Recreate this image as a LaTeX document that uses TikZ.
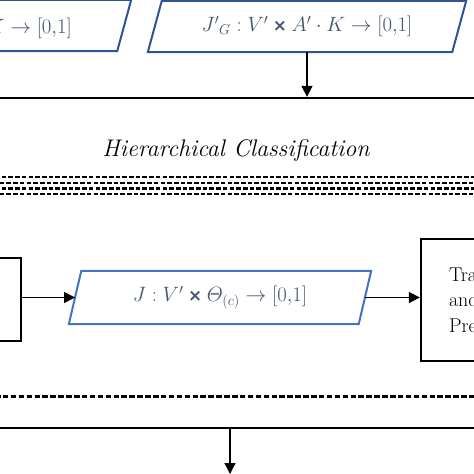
\documentclass[tikz,border=0pt]{standalone}
\usepackage{amsmath}
\usepackage{fontspec}
\newfontfamily\crossfont{DejaVu Sans}
\usetikzlibrary{arrows.meta,calc}
\definecolor{bluedark}{HTML}{2F5496}
\definecolor{bluemid}{HTML}{4472C4}
\definecolor{slatetext}{HTML}{44546A}
\newcommand{\bx}{\mathbin{\text{\crossfont\bfseries\scalebox{0.8}{×}}}}
% outline of a parallelogram round a node: #1 style, #2 node, #3 half slant
\newcommand{\paraoutline}[3]{%
  \draw[#1] ($(#2.south west)+(-#3,0)$) -- ($(#2.south east)+(-#3,0)$) --
    ($(#2.north east)+(#3,0)$) -- ($(#2.north west)+(#3,0)$) -- cycle;}
\begin{document}
\begin{tikzpicture}[x=1pt,y=-1pt,
  para/.style={rectangle, draw=none, text=slatetext, font=\fontsize{21}{25}\selectfont, inner sep=0pt},
  paraline/.style={line width=2pt, line join=miter},
  blackbox/.style={draw=black, line width=2.3pt, inner sep=0pt},
  arr/.style={-{Triangle[length=11pt,width=11pt]}, line width=1.3pt},
  dashline/.style={line width=2.3pt, dash pattern=on 4.6pt off 2.1pt}]
\useasboundingbox (0,0) rectangle (474,474);
\begin{scope}
\clip (0,0) rectangle (474,474);
% big hierarchical classification box
\node[blackbox, minimum width=540pt, minimum height=330pt] (hc) at (237,263) {};
% top parallelograms
\node[para, minimum width=304pt, minimum height=51pt] (ltop) at (-28,25.5) {};
\paraoutline{paraline, draw=bluedark}{ltop}{7}
\node[text=slatetext, font=\fontsize{21}{25}\selectfont, anchor=base east, inner sep=0pt] (ltxt) at (72,33) {$K \to [0{,}1]$};
\node[para, minimum width=304pt, minimum height=51pt] (rtop) at (307,26.5) {${J'}_{G} : V' \bx A' \cdot K \to [0{,}1]$};
\paraoutline{paraline, draw=bluedark}{rtop}{7}
% title
\node[font=\fontsize{24}{28}\selectfont\itshape, anchor=base, inner sep=0pt] (title) at (236,156) {Hierarchical Classification};
% stacked dashed lines
\draw[dashline] (-5,177) -- (480,177);
\draw[dashline, dash phase=2pt] (-5,183) -- (480,183);
\draw[dashline] (-5,188.5) -- (480,188.5);
\draw[dashline, dash phase=2pt] (-5,194) -- (480,194);
\draw[dashline, dash pattern=on 5.5pt off 2.4pt] (-5,396.5) -- (480,396.5);
% middle row
\node[blackbox, minimum width=100pt, minimum height=83pt] (leftbox) at (-29,299.5) {};
\node[para, minimum width=289.5pt, minimum height=53pt] (mid) at (220,297.5) {$J : V' \bx \varTheta_{(c)} \to [0{,}1]$};
\paraoutline{paraline, draw=bluemid}{mid}{6.25}
\node[blackbox, minimum width=160pt, minimum height=122pt, text width=104pt, inner xsep=28pt,
      align=left, font=\fontsize{20}{25.5}\selectfont] (rbox) at (501,300) {Training\\and\\Prediction};
% connectors
\coordinate (nextpt) at (230,474);
\draw[arr] (rtop.south) -- (rtop.south |- hc.north);
\draw[arr] (leftbox.east |- mid.west) -- (mid.west);
\draw[arr] (mid.east) -- (rbox.west |- mid.east);
\draw[arr] (nextpt |- hc.south) -- (nextpt);
\end{scope}
\end{tikzpicture}
\end{document}
